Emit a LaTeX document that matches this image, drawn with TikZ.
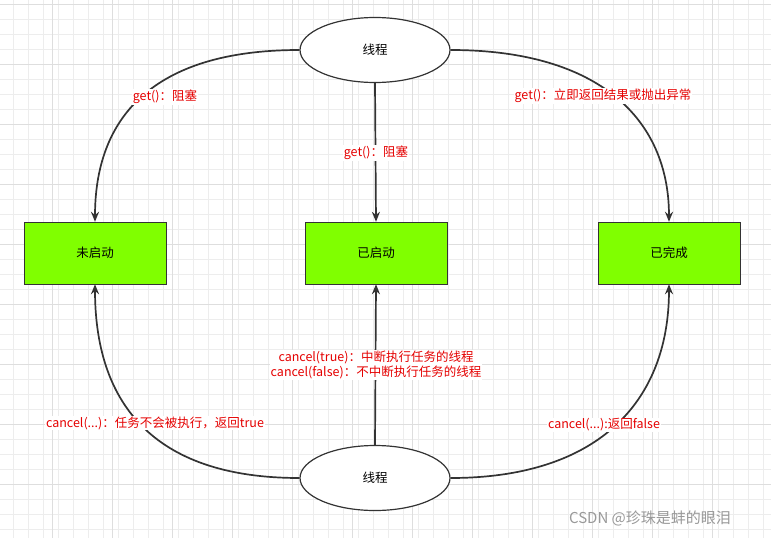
\documentclass[tikz,border=0pt]{standalone}
\usepackage{fontspec}
\setmainfont{Noto Sans CJK SC}
\usetikzlibrary{shapes.geometric,arrows.meta}
\begin{document}
\begin{tikzpicture}[x=1pt,y=-1pt,
  box/.style={draw=black!80,fill={rgb,255:red,128;green,255;blue,0},minimum width=142pt,minimum height=62pt,inner sep=0pt,font=\fontsize{12.5}{14}\selectfont},
  oval/.style={ellipse,draw=black!80,line width=1.2pt,fill=white,minimum width=150pt,minimum height=65pt,inner sep=0pt,font=\fontsize{12.5}{14}\selectfont},
  lbl/.style={fill=white,text=red!90!black,inner sep=1pt,font=\fontsize{12.5}{14.5}\selectfont,align=center},
  conn/.style={draw=black!80,line width=1.7pt,-{Stealth[length=10pt,width=8pt]}}]
\useasboundingbox (0,0) rectangle (771,538);
\fill[white] (0,0) rectangle (771,538);
\foreach \i in {0,...,52} {\draw[black!7,line width=0.6pt] (13+15*\i,0) -- (13+15*\i,538);}
\foreach \i in {0,...,36} {\draw[black!7,line width=0.6pt] (0,4+15*\i) -- (771,4+15*\i);}
\foreach \i in {0,...,13} {\draw[black!13,line width=0.8pt] (-8+60*\i,0) -- (-8+60*\i,538);}
\foreach \i in {0,...,9} {\draw[black!13,line width=0.8pt] (0,4+60*\i) -- (771,4+60*\i);}
\node[oval] (t) at (375,50) {线程};
\node[oval] (b) at (375,478) {线程};
\node[box] (l) at (95,253) {未启动};
\node[box] (c) at (376,253) {已启动};
\node[box] (r) at (669,253) {已完成};
\draw[conn] (t.west) .. controls (150,50) and (95,120) .. (l.north);
\draw[conn] (t.east) .. controls (600,50) and (669,120) .. (r.north);
\draw[conn] (t.south) -- (c.north);
\draw[conn] (b.west) .. controls (150,478) and (95,400) .. (l.south);
\draw[conn] (b.east) .. controls (600,478) and (669,400) .. (r.south);
\draw[conn] (b.north) -- (c.south);
\node[lbl] (l1) at (165,97) {get()：阻塞};
\node[lbl] (l2) at (376,153) {get()：阻塞};
\node[lbl] (l3) at (603,96) {get()：立即返回结果或抛出异常};
\node[lbl] (l4) at (376,365) {cancel(true)：中断执行任务的线程\\cancel(false)：不中断执行任务的线程};
\node[lbl] (l5) at (155,423) {cancel(...)：任务不会被执行，返回true};
\node[lbl] (l6) at (604,425) {cancel(...):返回false};
\node[text=black!40,font=\fontsize{15}{17}\selectfont] (wm) at (650,518) {CSDN @珍珠是蚌的眼泪};
\end{tikzpicture}
\end{document}
